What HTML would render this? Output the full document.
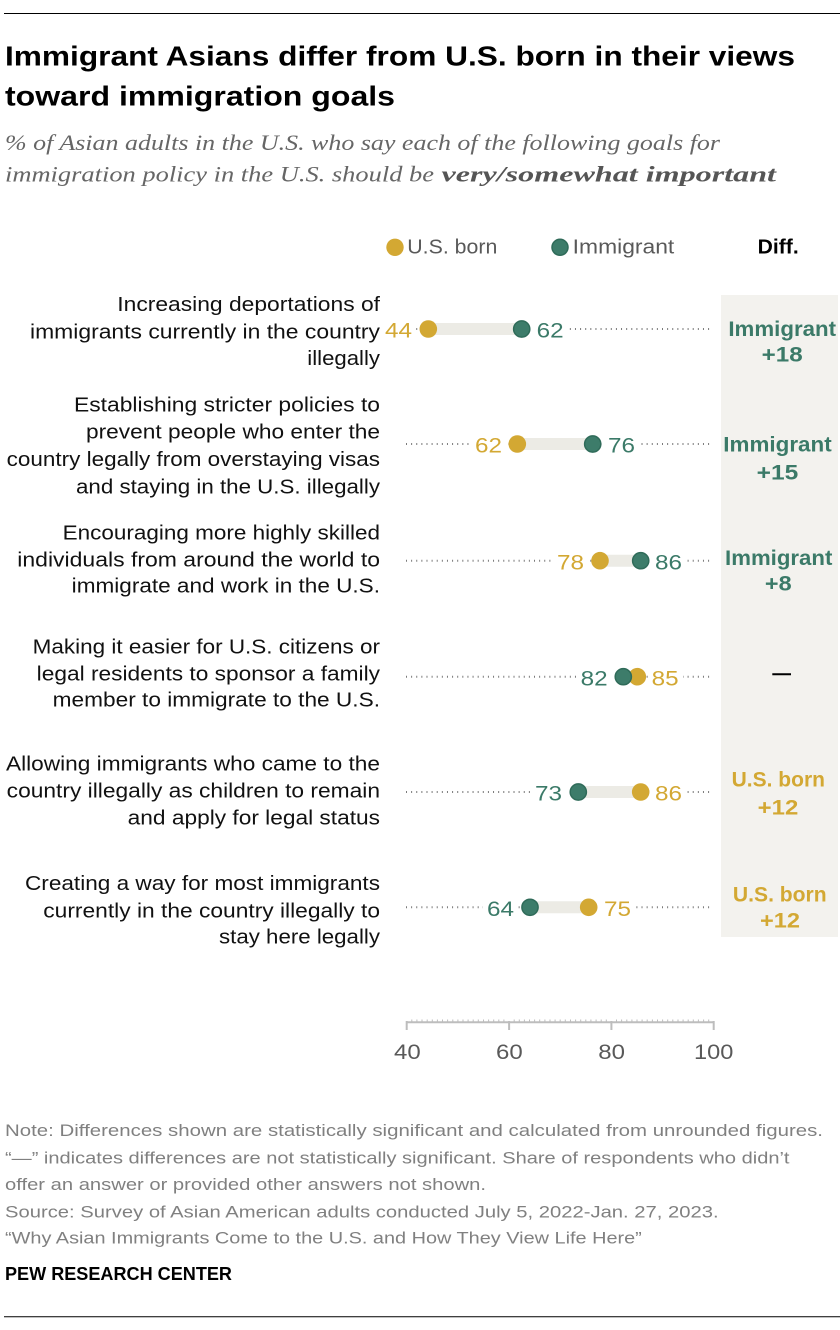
<!DOCTYPE html>
<html><head><meta charset="utf-8"><style>
html,body{margin:0;padding:0;background:#fff;}
svg{display:block;}
text{font-family:"Liberation Sans",Arial,sans-serif;}
.lbl{font-size:20px;fill:#111;}
.ser{font-family:"Liberation Serif",Georgia,serif;font-style:italic;font-size:22px;fill:#666;}
.num{font-size:21px;}
.g{fill:#d3a833;}
.t{fill:#3b7a68;}
.df{font-size:21px;font-weight:bold;}
.note{font-size:17px;fill:#808080;}
</style></head><body>
<svg width="840" height="1330" viewBox="0 0 840 1330" xmlns="http://www.w3.org/2000/svg">
<rect width="840" height="1330" fill="#fff"/>
<line x1="4" y1="13.5" x2="840" y2="13.5" stroke="#000" stroke-width="1"/>
<text x="5" y="65.7" font-size="28" font-weight="bold" fill="#000" textLength="790" lengthAdjust="spacingAndGlyphs">Immigrant Asians differ from U.S. born in their views</text>
<text x="5" y="105.3" font-size="28" font-weight="bold" fill="#000" textLength="390" lengthAdjust="spacingAndGlyphs">toward immigration goals</text>
<text class="ser" x="5" y="150" textLength="715" lengthAdjust="spacingAndGlyphs">% of Asian adults in the U.S. who say each of the following goals for</text>
<text class="ser" x="5" y="181.7" textLength="429" lengthAdjust="spacingAndGlyphs">immigration policy in the U.S. should be</text>
<text class="ser" x="441.5" y="181.7" font-weight="bold" style="fill:#555" textLength="334.5" lengthAdjust="spacingAndGlyphs">very/somewhat important</text>

<!-- legend -->
<circle cx="395" cy="247.3" r="8.7" fill="#d3a833"/>
<text x="407.3" y="253.3" font-size="20" fill="#595959" textLength="90" lengthAdjust="spacingAndGlyphs">U.S. born</text>
<circle cx="560" cy="247.3" r="8" fill="#3d7c6a" stroke="#2f6b59" stroke-width="1.5"/>
<text x="572.7" y="253.3" font-size="20" fill="#595959" textLength="101.6" lengthAdjust="spacingAndGlyphs">Immigrant</text>
<text x="757.7" y="253.3" font-size="20" font-weight="bold" fill="#000" textLength="41" lengthAdjust="spacingAndGlyphs">Diff.</text>

<!-- diff panel -->
<rect x="721" y="295" width="117" height="642" fill="#f3f2ee"/>

<!-- dotted lines -->
<g stroke="#7a7a7a" stroke-width="2" stroke-dasharray="1 4.12">
<line x1="406" y1="329" x2="713" y2="329"/>
<line x1="406" y1="444" x2="713" y2="444"/>
<line x1="406" y1="560.7" x2="713" y2="560.7"/>
<line x1="406" y1="676.7" x2="713" y2="676.7"/>
<line x1="406" y1="792" x2="713" y2="792"/>
<line x1="406" y1="907.3" x2="713" y2="907.3"/>
</g>

<!-- white backgrounds behind value labels -->
<g fill="#fff">
<rect x="381" y="318" width="35" height="22"/><rect x="532" y="318" width="36" height="22"/>
<rect x="470" y="433" width="36" height="22"/><rect x="604" y="433" width="36" height="22"/>
<rect x="552" y="550" width="36" height="22"/><rect x="651" y="550" width="36" height="22"/>
<rect x="577" y="666" width="35" height="22"/><rect x="648" y="666" width="35" height="22"/>
<rect x="531" y="781" width="35" height="22"/><rect x="651" y="781" width="36" height="22"/>
<rect x="483" y="896" width="35" height="22"/><rect x="600" y="896" width="36" height="22"/>
</g>

<!-- bars -->
<g stroke="#ecebe5" stroke-width="12">
<line x1="428.3" y1="329" x2="521.7" y2="329"/>
<line x1="517.3" y1="444" x2="592.7" y2="444"/>
<line x1="600" y1="560.7" x2="640.7" y2="560.7"/>
<line x1="623.3" y1="676.7" x2="637.3" y2="676.7"/>
<line x1="578.3" y1="792" x2="640.7" y2="792"/>
<line x1="530" y1="907.3" x2="588.7" y2="907.3"/>
</g>

<!-- dots -->
<g fill="#d3a833">
<circle cx="428.3" cy="329" r="8.8"/>
<circle cx="517.3" cy="444" r="8.8"/>
<circle cx="600" cy="560.7" r="8.8"/>
<circle cx="637.3" cy="676.7" r="8.8"/>
<circle cx="640.7" cy="792" r="8.8"/>
<circle cx="588.7" cy="907.3" r="8.8"/>
</g>
<g fill="#3d7c6a" stroke="#2f6b59" stroke-width="1.5">
<circle cx="521.7" cy="329" r="8.1"/>
<circle cx="592.7" cy="444" r="8.1"/>
<circle cx="640.7" cy="560.7" r="8.1"/>
<circle cx="623.3" cy="676.7" r="8.1"/>
<circle cx="578.3" cy="792" r="8.1"/>
<circle cx="530" cy="907.3" r="8.1"/>
</g>

<!-- value labels -->
<text class="num g" x="412" y="337.7" text-anchor="end" textLength="27" lengthAdjust="spacingAndGlyphs">44</text>
<text class="num t" x="536.7" y="337.7" textLength="27" lengthAdjust="spacingAndGlyphs">62</text>
<text class="num g" x="502" y="452.7" text-anchor="end" textLength="27" lengthAdjust="spacingAndGlyphs">62</text>
<text class="num t" x="608" y="452.7" textLength="27" lengthAdjust="spacingAndGlyphs">76</text>
<text class="num g" x="584" y="569.4" text-anchor="end" textLength="27" lengthAdjust="spacingAndGlyphs">78</text>
<text class="num t" x="655" y="569.4" textLength="27" lengthAdjust="spacingAndGlyphs">86</text>
<text class="num t" x="607.7" y="685.4" text-anchor="end" textLength="27" lengthAdjust="spacingAndGlyphs">82</text>
<text class="num g" x="651.7" y="685.4" textLength="27" lengthAdjust="spacingAndGlyphs">85</text>
<text class="num t" x="562" y="800.7" text-anchor="end" textLength="27" lengthAdjust="spacingAndGlyphs">73</text>
<text class="num g" x="655" y="800.7" textLength="27" lengthAdjust="spacingAndGlyphs">86</text>
<text class="num t" x="514" y="916" text-anchor="end" textLength="27" lengthAdjust="spacingAndGlyphs">64</text>
<text class="num g" x="604" y="916" textLength="27" lengthAdjust="spacingAndGlyphs">75</text>

<!-- row labels -->
<g class="lbl" text-anchor="end">
<text x="380" y="311" textLength="262.7" lengthAdjust="spacingAndGlyphs">Increasing deportations of</text>
<text x="380" y="338.3" textLength="350" lengthAdjust="spacingAndGlyphs">immigrants currently in the country</text>
<text x="380" y="365" textLength="72.7" lengthAdjust="spacingAndGlyphs">illegally</text>

<text x="380" y="411.7" textLength="306" lengthAdjust="spacingAndGlyphs">Establishing stricter policies to</text>
<text x="380" y="438.3" textLength="294" lengthAdjust="spacingAndGlyphs">prevent people who enter the</text>
<text x="380" y="466" textLength="373.3" lengthAdjust="spacingAndGlyphs">country legally from overstaying visas</text>
<text x="380" y="493.3" textLength="304" lengthAdjust="spacingAndGlyphs">and staying in the U.S. illegally</text>

<text x="380" y="539.3" textLength="317.3" lengthAdjust="spacingAndGlyphs">Encouraging more highly skilled</text>
<text x="380" y="566.7" textLength="362.7" lengthAdjust="spacingAndGlyphs">individuals from around the world to</text>
<text x="380" y="592.7" textLength="308.3" lengthAdjust="spacingAndGlyphs">immigrate and work in the U.S.</text>

<text x="380" y="653.3" textLength="347.3" lengthAdjust="spacingAndGlyphs">Making it easier for U.S. citizens or</text>
<text x="380" y="680.7" textLength="343.3" lengthAdjust="spacingAndGlyphs">legal residents to sponsor a family</text>
<text x="380" y="706.7" textLength="327.3" lengthAdjust="spacingAndGlyphs">member to immigrate to the U.S.</text>

<text x="380" y="770.7" textLength="374" lengthAdjust="spacingAndGlyphs">Allowing immigrants who came to the</text>
<text x="380" y="797.3" textLength="373.3" lengthAdjust="spacingAndGlyphs">country illegally as children to remain</text>
<text x="380" y="824.3" textLength="252.3" lengthAdjust="spacingAndGlyphs">and apply for legal status</text>

<text x="380" y="890" textLength="355" lengthAdjust="spacingAndGlyphs">Creating a way for most immigrants</text>
<text x="380" y="917.3" textLength="336.7" lengthAdjust="spacingAndGlyphs">currently in the country illegally to</text>
<text x="380" y="943.3" textLength="161" lengthAdjust="spacingAndGlyphs">stay here legally</text>
</g>

<!-- diff labels -->
<g class="df" text-anchor="middle">
<text class="t" x="782.2" y="336" textLength="107.7" lengthAdjust="spacingAndGlyphs">Immigrant</text>
<text class="t" x="782.2" y="361.7" textLength="41" lengthAdjust="spacingAndGlyphs">+18</text>
<text class="t" x="777.5" y="451.7" textLength="108.4" lengthAdjust="spacingAndGlyphs">Immigrant</text>
<text class="t" x="777.5" y="479.3" textLength="41.6" lengthAdjust="spacingAndGlyphs">+15</text>
<text class="t" x="778.7" y="565" textLength="107.3" lengthAdjust="spacingAndGlyphs">Immigrant</text>
<text class="t" x="778.3" y="590.7" textLength="26.7" lengthAdjust="spacingAndGlyphs">+8</text>
<text class="g" x="778.3" y="786.7" textLength="93.3" lengthAdjust="spacingAndGlyphs">U.S. born</text>
<text class="g" x="778" y="814.3" textLength="40.6" lengthAdjust="spacingAndGlyphs">+12</text>
<text class="g" x="779.8" y="901.7" textLength="93.7" lengthAdjust="spacingAndGlyphs">U.S. born</text>
<text class="g" x="780" y="927.7" textLength="40" lengthAdjust="spacingAndGlyphs">+12</text>
</g>
<line x1="772.3" y1="674.3" x2="791" y2="674.3" stroke="#000" stroke-width="2"/>

<!-- axis -->
<line x1="406.7" y1="1022.3" x2="713.7" y2="1022.3" stroke="#bdbdbd" stroke-width="2"/>
<g stroke="#bdbdbd" stroke-width="1">
<path d="M411.8 1019.5V1022M416.9 1019.5V1022M422.0 1019.5V1022M427.2 1019.5V1022M432.3 1019.5V1022M437.4 1019.5V1022M442.5 1019.5V1022M447.6 1019.5V1022M452.8 1019.5V1022M457.9 1019.5V1022M463.0 1019.5V1022M468.1 1019.5V1022M473.2 1019.5V1022M478.3 1019.5V1022M483.5 1019.5V1022M488.6 1019.5V1022M493.7 1019.5V1022M498.8 1019.5V1022M503.9 1019.5V1022M514.2 1019.5V1022M519.3 1019.5V1022M524.4 1019.5V1022M529.5 1019.5V1022M534.6 1019.5V1022M539.7 1019.5V1022M544.9 1019.5V1022M550.0 1019.5V1022M555.1 1019.5V1022M560.2 1019.5V1022M565.3 1019.5V1022M570.5 1019.5V1022M575.6 1019.5V1022M580.7 1019.5V1022M585.8 1019.5V1022M590.9 1019.5V1022M596.1 1019.5V1022M601.2 1019.5V1022M606.3 1019.5V1022M616.5 1019.5V1022M621.6 1019.5V1022M626.8 1019.5V1022M631.9 1019.5V1022M637.0 1019.5V1022M642.1 1019.5V1022M647.2 1019.5V1022M652.4 1019.5V1022M657.5 1019.5V1022M662.6 1019.5V1022M667.7 1019.5V1022M672.8 1019.5V1022M678.0 1019.5V1022M683.1 1019.5V1022M688.2 1019.5V1022M693.3 1019.5V1022M698.4 1019.5V1022M703.6 1019.5V1022M708.7 1019.5V1022"/>
</g>
<g stroke="#bdbdbd" stroke-width="2">
<line x1="406.7" y1="1021" x2="406.7" y2="1030"/>
<line x1="509.1" y1="1021" x2="509.1" y2="1030"/>
<line x1="611.4" y1="1021" x2="611.4" y2="1030"/>
<line x1="713.7" y1="1021" x2="713.7" y2="1030"/>
</g>
<g font-size="21" fill="#595959">
<text x="394" y="1059" textLength="26.7" lengthAdjust="spacingAndGlyphs">40</text>
<text x="496" y="1059" textLength="26.7" lengthAdjust="spacingAndGlyphs">60</text>
<text x="598.3" y="1059" textLength="26.7" lengthAdjust="spacingAndGlyphs">80</text>
<text x="694" y="1059" textLength="39.3" lengthAdjust="spacingAndGlyphs">100</text>
</g>

<!-- notes -->
<text class="note" x="5" y="1136" textLength="818" lengthAdjust="spacingAndGlyphs">Note: Differences shown are statistically significant and calculated from unrounded figures.</text>
<text class="note" x="5" y="1163.3" textLength="784.5" lengthAdjust="spacingAndGlyphs">“—” indicates differences are not statistically significant. Share of respondents who didn’t</text>
<text class="note" x="5" y="1190" textLength="481" lengthAdjust="spacingAndGlyphs">offer an answer or provided other answers not shown.</text>
<text class="note" x="5" y="1217.3" textLength="713.6" lengthAdjust="spacingAndGlyphs">Source: Survey of Asian American adults conducted July 5, 2022-Jan. 27, 2023.</text>
<text class="note" x="5" y="1243.3" textLength="636.8" lengthAdjust="spacingAndGlyphs">“Why Asian Immigrants Come to the U.S. and How They View Life Here”</text>
<text x="5" y="1280" font-size="18" font-weight="bold" fill="#000" textLength="227" lengthAdjust="spacingAndGlyphs">PEW RESEARCH CENTER</text>
<line x1="4" y1="1316.7" x2="840" y2="1316.7" stroke="#000" stroke-width="1"/>
</svg>
</body></html>
